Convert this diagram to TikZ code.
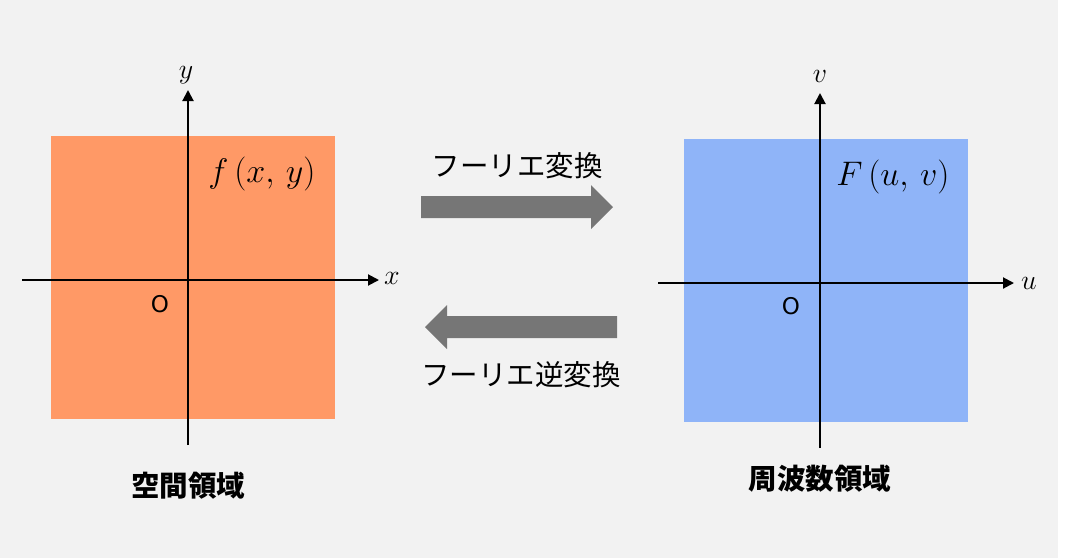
\documentclass[tikz,border=0pt]{standalone}
\usepackage{fontspec}
\newfontfamily\jp{Noto Sans CJK JP}
\newfontfamily\dsans{DejaVu Sans}
\usetikzlibrary{arrows.meta}
\definecolor{bggray}{HTML}{F2F2F2}
\definecolor{orangefill}{HTML}{FF9966}
\definecolor{bluefill}{HTML}{8FB4F8}
\definecolor{arrowgray}{HTML}{767676}
\tikzset{
  axis/.style={line width=2pt,-{Triangle[length=11pt,width=11pt]}},
  axlabel/.style={font=\fontsize{20}{22}\selectfont, scale=1.35},
  funclabel/.style={font=\fontsize{24}{26}\selectfont, scale=1.37, anchor=center},
  jplabel/.style={font=\jp\fontsize{28.5}{30}\selectfont},
  jpbold/.style={font=\jp\bfseries\fontsize{28.5}{30}\selectfont},
  origin/.style={font=\dsans\fontsize{23}{25}\selectfont},
  bigarrow/.style={fill=arrowgray}
}
\begin{document}
\begin{tikzpicture}[x=1pt,y=-1pt]
\useasboundingbox (0,0) rectangle (1085,558);
\fill[white] (0,0) rectangle (1085,558);
\fill[bggray] (0,0) rectangle (1058,558);
% left panel
\fill[orangefill] (51,136) rectangle (335,419);
\coordinate (lyb) at (188,445);
\coordinate (lyt) at (188,90);
\coordinate (lxl) at (22,280);
\coordinate (lxr) at (379,280);
\draw[axis] (lxl) -- (lxr);
\draw[axis] (lyb) -- (lyt);
\node[axlabel] (lx) at (392,278) {$x$};
\node[axlabel] (ly) at (186,75) {$y$};
\node[origin] (lo) at (160,304) {O};
\node[funclabel] (lf) at (262,174) {$f\,(x,\,y)$};
\node[jpbold] (lt) at (188,486) {空間領域};
% right panel
\fill[bluefill] (684,139) rectangle (968,422);
\coordinate (ryb) at (820,448);
\coordinate (ryt) at (820,93);
\coordinate (rxl) at (658,283);
\coordinate (rxr) at (1014,283);
\draw[axis] (rxl) -- (rxr);
\draw[axis] (ryb) -- (ryt);
\node[axlabel] (ru) at (1029,283) {$u$};
\node[axlabel] (rv) at (820,76) {$v$};
\node[origin] (ro) at (791,306.5) {O};
\node[funclabel] (rf) at (893,177) {$F\,(u,\,v)$};
\node[jpbold] (rt) at (820,479) {周波数領域};
% block arrows
\fill[bigarrow] (421,196) -- (591,196) -- (591,185) -- (613,207) -- (591,229) -- (591,218) -- (421,218) -- cycle;
\fill[bigarrow] (617,316) -- (447,316) -- (447,305) -- (425,327) -- (447,349) -- (447,338) -- (617,338) -- cycle;
\node[jplabel] (t1) at (517,166) {フーリエ変換};
\node[jplabel] (t2) at (521,375) {フーリエ逆変換};
\end{tikzpicture}
\end{document}
